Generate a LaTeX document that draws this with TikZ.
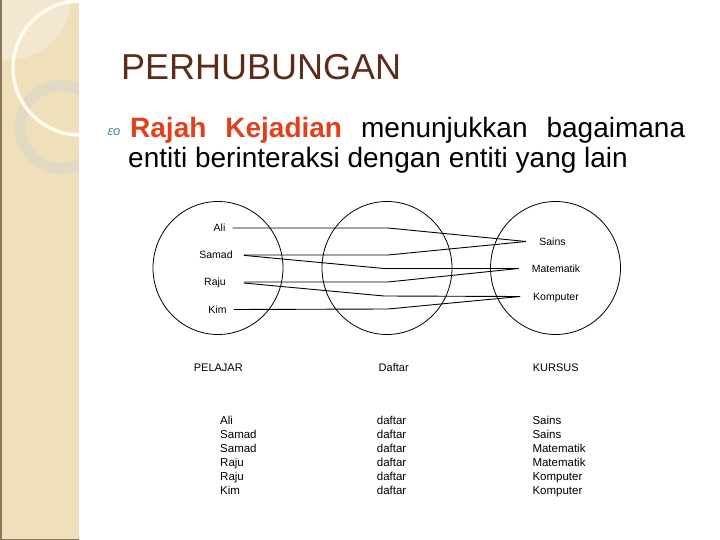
\documentclass[tikz,border=0pt]{standalone}
\usepackage{fontspec}
\setmainfont{Liberation Sans}
\definecolor{strip}{RGB}{239,224,187}
\definecolor{striplight}{RGB}{243,232,207}
\definecolor{stripedge}{RGB}{135,120,90}
\definecolor{ringgrey}{RGB}{226,217,194}
\definecolor{ringwhite}{RGB}{255,252,240}
\definecolor{titlebrown}{RGB}{92,43,25}
\definecolor{keyred}{RGB}{226,64,28}
\definecolor{bulletteal}{RGB}{70,135,155}
\newcommand{\titlefont}{\fontsize{36}{40}\selectfont}
\newcommand{\bodyfont}{\fontsize{28}{30}\selectfont}
\newcommand{\labelfont}{\fontsize{10.5}{12}\selectfont}
\newcommand{\headfont}{\fontsize{11}{13}\selectfont}
\newcommand{\rowfont}{\fontsize{11.5}{13}\selectfont}

\begin{document}
\begin{tikzpicture}[x=1pt,y=-1pt,
  student/.style={font=\labelfont, inner xsep=7pt, text height=7.5pt, text depth=0pt},
  course/.style={font=\labelfont, inner xsep=13pt, text height=7.5pt, text depth=0pt},
  header/.style={font=\headfont},
  row/.style={font=\rowfont, anchor=base west, inner xsep=0pt},
  link/.style={line width=0.9pt},
  set/.style={line width=0.8pt}]
\useasboundingbox (0,0) rectangle (720,540);

 % side strip
 \fill[strip] (0,0) rectangle (79,540);
 \begin{scope}
   \clip (0,0) rectangle (79,540);
   \fill[striplight] (8,-4) circle (64);
   \draw[ringgrey, line width=11pt] (61.5,127) circle (41.5);
   \draw[ringwhite, line width=3.5pt] (80,68) circle (67);
 \end{scope}
 \draw[stripedge, line width=1.5pt] (0.75,0) -- (0.75,539.25) -- (79,539.25);

 % heading
 \node[anchor=base west, inner sep=0, font=\titlefont, text=titlebrown] (title) at (121,80) {PERHUBUNGAN};
 \node[inner sep=0, font=\fontsize{13}{13}\selectfont\itshape, text=bulletteal] (bullet) at (114,132.5) {εo};
 \node[anchor=base west, inner sep=0, font=\bodyfont] (intro) at (130,138)
   {\makebox[555pt][s]{\textcolor{keyred}{\bfseries Rajah Kejadian} menunjukkan bagaimana}};
 \node[anchor=base west, inner sep=0, font=\bodyfont] (intro2) at (128,168) {entiti berinteraksi dengan entiti yang lain};

 % the three sets
 \draw[set] (218,268) ellipse (65 and 66.5);
 \draw[set] (387,268) ellipse (65 and 66.5);
 \draw[set] (555.5,268) ellipse (65 and 66.5);

 \node[student] (ali) at (219.5,228) {Ali};
 \node[student] (samad) at (216,255) {Samad};
 \node[student] (raju) at (215,282) {Raju};
 \node[student] (kim) at (217.5,309.5) {Kim};
 \node[course] (sains) at (552.5,241.5) {Sains};
 \node[course] (matematik) at (556,268.5) {Matematik};
 \node[course] (komputer) at (556,296.5) {Komputer};

 \coordinate (a1) at (388,228);
 \coordinate (s1) at (388,255);
 \coordinate (s2) at (384,268.5);
 \coordinate (r1) at (388,282);
 \coordinate (r2) at (384,296);
 \coordinate (k1) at (388,309);

 \draw[link] (ali.east) -- (a1) -- (sains.west);
 \draw[link, shorten <=4pt] (samad.east) -- (s1) -- (sains.west);
 \draw[link, shorten <=4pt] (samad.east) -- (s2) -- (matematik.west);
 \draw[link, shorten <=11pt] (raju.east) -- (r1) -- (matematik.west);
 \draw[link, shorten <=11pt] (raju.east) -- (r2) -- (komputer.west);
 \draw[link] (kim.east) -- (k1) -- (komputer.west);

 % the table below
 \node[header] (pelajar) at (218.3,368) {PELAJAR};
 \node[header] (daftar) at (393.7,368) {Daftar};
 \node[header] (kursus) at (555.7,368) {KURSUS};

 \foreach \who/\what [count=\i] in {Ali/Sains, Samad/Sains, Samad/Matematik, Raju/Matematik, Raju/Komputer, Kim/Komputer}
 {
   \node[row] (who\i) at (220,410+14*\i) {\who};
   \node[row] (reg\i) at (376.7,410+14*\i) {daftar};
   \node[row] (what\i) at (532.3,410+14*\i) {\what};
 }

\end{tikzpicture}
\end{document}
